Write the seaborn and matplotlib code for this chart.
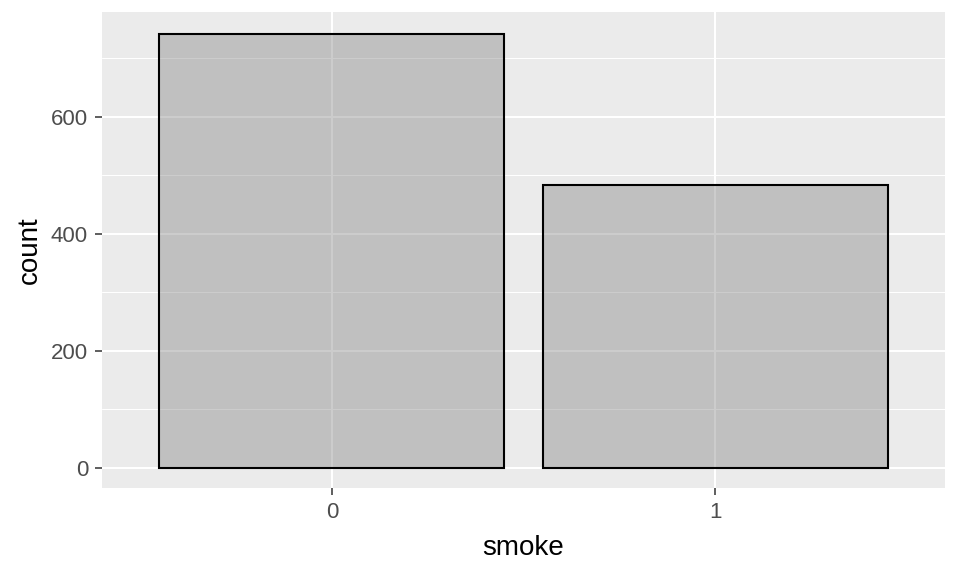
import matplotlib
matplotlib.use("Agg")
import matplotlib.pyplot as plt
import pandas as pd
import seaborn as sns
from matplotlib.ticker import MultipleLocator

# data
smoke = ["0", "1"]
counts = [742, 484]

df = pd.DataFrame({"smoke": smoke, "count": counts})

sns.set_theme(style="darkgrid")
plt.rcParams["font.family"] = ["Liberation Sans", "DejaVu Sans"]

fig = plt.figure(figsize=(9.6, 5.76), dpi=100)
ax = fig.add_axes([102 / 960, 1 - 488 / 576, (945 - 102) / 960, (488 - 12) / 576])
ax.set_facecolor("#EBEBEB")

sns.barplot(data=df, x="smoke", y="count", color="#7F7F7F",
            edgecolor="black", linewidth=1.5, width=0.9, saturation=1, ax=ax)
for p in ax.patches:
    p.set_facecolor((0.5, 0.5, 0.5, 0.4))
    p.set_edgecolor((0, 0, 0, 1))
    p.set_zorder(1)

# grid (seaborn switches off the categorical one, turn it back on)
ax.set_axisbelow(True)
ax.yaxis.set_major_locator(MultipleLocator(200))
ax.yaxis.set_minor_locator(MultipleLocator(100))
ax.xaxis.grid(True, which="major", color="white", linewidth=1.5)
ax.yaxis.grid(True, which="major", color="white", linewidth=1.5)
ax.yaxis.grid(True, which="minor", color="white", linewidth=0.75)

ymax = max(counts)
ax.set_xlim(-0.6, 1.6)
ax.set_ylim(-0.046 * ymax, 1.05 * ymax)

for s in ax.spines.values():
    s.set_visible(False)

ax.tick_params(axis="both", which="major", length=5, width=1.1, color="#333333",
               labelsize=16, labelcolor="#4D4D4D", pad=5, direction="out",
               bottom=True, left=True)
ax.tick_params(axis="both", which="minor", length=0)
ax.set_xlabel("smoke", fontsize=20, color="black", labelpad=9)
ax.set_ylabel("count", fontsize=20, color="black", labelpad=6)

fig.savefig("out.png", dpi=100)
